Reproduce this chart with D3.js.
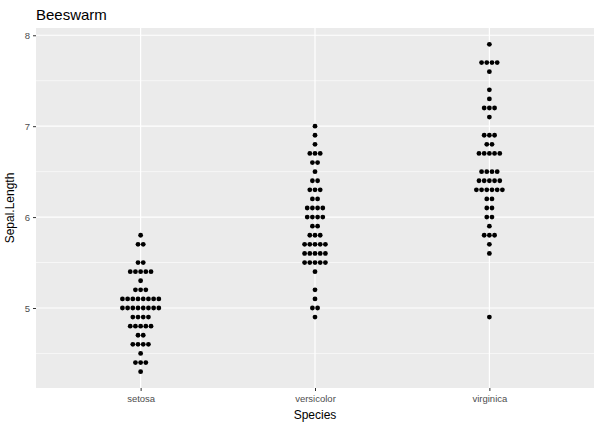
<!DOCTYPE html>
<html>
<head>
<meta charset="utf-8">
<script src="https://cdn.jsdelivr.net/npm/d3@7"></script>
<style>
  body { margin: 0; background: #fff; }
  text { font-family: "Liberation Sans", Arial, sans-serif; }
</style>
</head>
<body>
<div id="chart"></div>
<script>
"use strict";

const species = ['setosa', 'versicolor', 'virginica'];
const setosa = [5.1,4.9,4.7,4.6,5.0,5.4,4.6,5.0,4.4,4.9,5.4,4.8,4.8,4.3,5.8,5.7,5.4,5.1,5.7,5.1,5.4,5.1,4.6,5.1,4.8,5.0,5.0,5.2,5.2,4.7,4.8,5.4,5.2,5.5,4.9,5.0,5.5,4.9,4.4,5.1,5.0,4.5,4.4,5.0,5.1,4.8,5.1,4.6,5.3,5.0];
const versicolor = [7.0,6.4,6.9,5.5,6.5,5.7,6.3,4.9,6.6,5.2,5.0,5.9,6.0,6.1,5.6,6.7,5.6,5.8,6.2,5.6,5.9,6.1,6.3,6.1,6.4,6.6,6.8,6.7,6.0,5.7,5.5,5.5,5.8,6.0,5.4,6.0,6.7,6.3,5.6,5.5,5.5,6.1,5.8,5.0,5.6,5.7,5.7,6.2,5.1,5.7];
const virginica = [6.3,5.8,7.1,6.3,6.5,7.6,4.9,7.3,6.7,7.2,6.5,6.4,6.8,5.7,5.8,6.4,6.5,7.7,7.7,6.0,6.9,5.6,7.7,6.3,6.7,7.2,6.2,6.1,6.4,7.2,7.4,7.9,6.4,6.3,6.1,7.7,6.3,6.4,6.0,6.9,6.7,6.9,5.8,6.8,6.7,6.7,6.3,6.5,6.2,5.9];
const yTicks = [5, 6, 7, 8];
const yMinor = [4.5, 5.5, 6.5, 7.5];

const width = 600, height = 429;
const margin = { top: 28, right: 6, bottom: 41, left: 36 };
const pw = width - margin.left - margin.right;
const ph = height - margin.top - margin.bottom;

const svg = d3.select('#chart').append('svg')
  .attr('width', width).attr('height', height);

svg.append('text').attr('x', margin.left).attr('y', 20)
  .attr('font-size', 15).attr('fill', '#000').text('Beeswarm');

const g = svg.append('g')
  .attr('transform', 'translate(' + margin.left + ', ' + margin.top + ')');

const x = d3.scalePoint().domain(species).range([0, pw]).padding(0.6);
const y = d3.scaleLinear().domain([4.12, 8.08]).range([ph, 0]);

g.append('rect').attr('width', pw).attr('height', ph).attr('fill', '#EBEBEB');

g.selectAll('.minor').data(yMinor).enter().append('line')
  .attr('x1', 0).attr('x2', pw).attr('y1', d => y(d)).attr('y2', d => y(d))
  .attr('stroke', '#fff').attr('stroke-width', 0.6);
g.selectAll('.major').data(yTicks).enter().append('line')
  .attr('x1', 0).attr('x2', pw).attr('y1', d => y(d)).attr('y2', d => y(d))
  .attr('stroke', '#fff').attr('stroke-width', 1.2);
g.selectAll('.vgrid').data(species).enter().append('line')
  .attr('y1', 0).attr('y2', ph).attr('x1', d => x(d)).attr('x2', d => x(d))
  .attr('stroke', '#fff').attr('stroke-width', 1.2);

const series = { setosa: setosa, versicolor: versicolor, virginica: virginica };
const step = 5.2;
species.forEach(sp => {
  const groups = d3.group(series[sp], v => v);
  groups.forEach((vals, v) => {
    const n = vals.length;
    vals.forEach((_, i) => {
      g.append('circle')
        .attr('cx', x(sp) + (i - (n - 1) / 2) * step)
        .attr('cy', y(v))
        .attr('r', 2.4)
        .attr('fill', '#000');
    });
  });
});

const xAxis = g.append('g').attr('transform', 'translate(0,' + ph + ')')
  .call(d3.axisBottom(x).tickSize(3).tickPadding(4));
const yAxis = g.append('g')
  .call(d3.axisLeft(y).tickValues(yTicks).tickFormat(d3.format('d')).tickSize(3).tickPadding(3));
[xAxis, yAxis].forEach(a => {
  a.select('.domain').remove();
  a.selectAll('line').attr('stroke', '#333');
  a.selectAll('text').attr('fill', '#4D4D4D').attr('font-size', 9.5)
    .style('font-family', '"Liberation Sans", Arial, sans-serif');
});

svg.append('text').attr('x', margin.left + pw / 2).attr('y', height - 10)
  .attr('text-anchor', 'middle').attr('font-size', 12).text('Species');
svg.append('text')
  .attr('transform', 'translate(14,' + (margin.top + ph / 2) + ') rotate(-90)')
  .attr('text-anchor', 'middle').attr('font-size', 12).text('Sepal.Length');
</script>
</body>
</html>
